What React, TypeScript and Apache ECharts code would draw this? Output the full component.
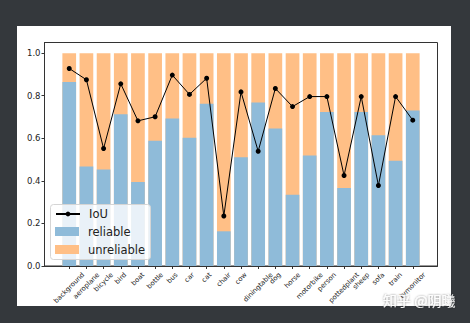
import React, { useEffect, useRef } from "react";
import * as echarts from "echarts";

const categories = [
  "background", "aeroplane", "bicycle", "bird", "boat", "bottle", "bus", "car", "cat", "chair",
  "cow", "diningtable", "dog", "horse", "motorbike", "person", "pottedplant", "sheep", "sofa", "train", "tvmonitor",
];
const reliable = [
  0.864, 0.467, 0.453, 0.713, 0.395, 0.589, 0.693, 0.602, 0.762, 0.163,
  0.511, 0.768, 0.646, 0.335, 0.519, 0.724, 0.367, 0.724, 0.614, 0.495, 0.730,
];
const iou = [
  0.928, 0.875, 0.552, 0.856, 0.682, 0.701, 0.897, 0.806, 0.882, 0.235,
  0.818, 0.539, 0.834, 0.749, 0.796, 0.796, 0.425, 0.796, 0.378, 0.796, 0.685,
];
const unreliable = reliable.map((r) => +(1 - r).toFixed(3));
const yTicks = [0, 0.2, 0.4, 0.6, 0.8, 1.0];

const FONT = '"DejaVu Sans", sans-serif';
const X_LABEL_SIZE = 6.8;

function measure(text: string, size: number): number {
  const c = document.createElement("canvas").getContext("2d");
  if (!c) return text.length * size * 0.6;
  c.font = `${size}px "DejaVu Sans"`;
  return c.measureText(text).width;
}

export default function App() {
  const ref = useRef<HTMLDivElement>(null);
  useEffect(() => {
    if (!ref.current) return;
    const chart = echarts.init(ref.current, null, { renderer: "svg" });
    const idx = categories.map((_, i) => i);
    // unreliable is stacked on reliable: draw the stack top (reliable + unreliable) behind the reliable bar
    const stackTop = reliable.map((r, i) => r + unreliable[i]);
    const legendText = { fontSize: 11.5, color: "#222", fontFamily: FONT, padding: [0, 0, 0, 4] };
    const option: any = {
      animation: false,
      backgroundColor: "#34383c",
      textStyle: { fontFamily: FONT },
      graphic: [
        {
          type: "rect",
          z: -100,
          silent: true,
          shape: { x: 17, y: 26, width: 434, height: 280 },
          style: { fill: "#ffffff" },
        },
        {
          type: "rect",
          z: 3,
          silent: true,
          shape: { x: 50.5, y: 204.5, width: 100, height: 55, r: 3 },
          style: { fill: "rgba(255,255,255,0.8)", stroke: "#d5d5d5", lineWidth: 1 },
        },
        {
          type: "text",
          z: 100,
          silent: true,
          x: 383,
          y: 300,
          style: {
            text: "知乎 @阴曦",
            fill: "rgba(255,255,255,0.92)",
            font: '14px "Noto Sans CJK SC"',
            verticalAlign: "middle",
            textShadowColor: "rgba(0,0,0,0.55)",
            textShadowBlur: 2,
          },
        },
      ],
      grid: {
        left: 44.5,
        right: 32.5,
        top: 42.5,
        bottom: 57,
        show: true,
        backgroundColor: "transparent",
        borderColor: "#333",
        borderWidth: 1,
      },
      legend: [
        {
          orient: "vertical",
          left: 50,
          top: 204,
          padding: [4, 6, 0, 5],
          itemWidth: 24,
          itemHeight: 6,
          textStyle: legendText,
          data: [{ name: "IoU" }],
        },
        {
          orient: "vertical",
          left: 50,
          top: 221.5,
          padding: [4, 6, 4, 5],
          itemGap: 6,
          itemWidth: 24,
          itemHeight: 9,
          textStyle: legendText,
          data: [
            { name: "reliable", icon: "rect" },
            { name: "unreliable", icon: "rect" },
          ],
        },
      ],
      xAxis: {
        type: "value",
        min: -1.44,
        max: 21.44,
        splitLine: { show: false },
        axisLine: { show: true, onZero: false, lineStyle: { color: "#333", width: 1 } },
        axisTick: { show: true, length: 3, customValues: idx, lineStyle: { color: "#333" } },
        axisLabel: { show: false },
      },
      yAxis: {
        type: "value",
        min: 0,
        max: 1.05,
        splitLine: { show: false },
        axisLine: { show: true, onZero: false, lineStyle: { color: "#333", width: 1 } },
        axisTick: { show: true, length: 3, customValues: yTicks, lineStyle: { color: "#333" } },
        axisLabel: {
          customValues: yTicks,
          formatter: (v: number) => v.toFixed(1),
          fontSize: 8.5,
          color: "#222",
          margin: 4,
          fontFamily: FONT,
        },
      },
      series: [
        {
          name: "unreliable",
          type: "bar",
          barWidth: 13.7,
          barGap: "-100%",
          z: 1,
          itemStyle: { color: "#ffbf86" },
          data: stackTop.map((v, i) => [i, v]),
        },
        {
          name: "reliable",
          type: "bar",
          barWidth: 13.7,
          barGap: "-100%",
          z: 2,
          itemStyle: { color: "#8fbbd9" },
          data: reliable.map((v, i) => [i, v]),
        },
        {
          name: "IoU",
          type: "line",
          symbol: "circle",
          symbolSize: 5,
          lineStyle: { color: "#000", width: 1 },
          itemStyle: { color: "#000" },
          data: iou.map((v, i) => [i, v]),
          z: 2.5,
        },
        {
          name: "xlabels",
          type: "custom",
          silent: true,
          clip: false,
          itemStyle: { color: "#222" },
          data: idx.map((i) => [i, 0]),
          renderItem: (params: any, api: any) => {
            const i = api.value(0);
            const p = api.coord([i, 0]);
            const text = categories[i];
            const w = measure(text, X_LABEL_SIZE);
            const h = X_LABEL_SIZE * 1.15;
            const bboxH = (w + h) * Math.SQRT1_2;
            return {
              type: "text",
              x: p[0],
              y: p[1] + 5 + bboxH / 2,
              rotation: Math.PI / 4,
              style: {
                text,
                fill: "#222",
                font: `${X_LABEL_SIZE}px "DejaVu Sans"`,
                align: "center",
                verticalAlign: "middle",
              },
            };
          },
        },
      ],
    };
    chart.setOption(option);
    return () => chart.dispose();
  }, []);
  return (
    <div
      ref={ref}
      style={{ position: "absolute", left: 0, top: 0, width: 470, height: 323 }}
    />
  );
}
